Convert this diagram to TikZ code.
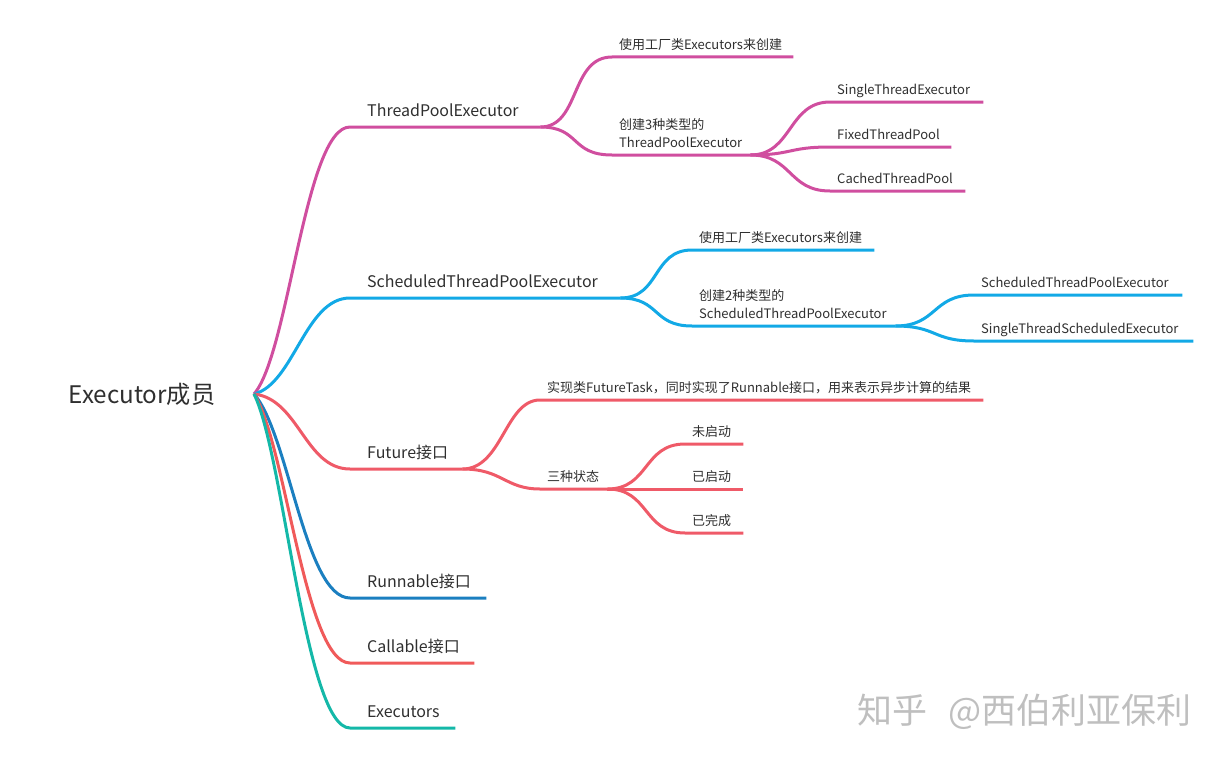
\documentclass[tikz,border=0pt]{standalone}
\usepackage{fontspec}
\setmainfont{Noto Sans CJK SC}
\definecolor{inktext}{HTML}{2F2F2F}
\definecolor{pinkbranch}{HTML}{D04E9F}
\definecolor{bluebranch}{HTML}{12A9E6}
\definecolor{redbranch}{HTML}{EF5A68}
\definecolor{navybranch}{HTML}{1B7FC0}
\definecolor{coralbranch}{HTML}{F05A5A}
\definecolor{tealbranch}{HTML}{14B8A8}
\definecolor{markgray}{HTML}{BFBFBF}
\tikzset{
  rootlabel/.style={anchor=east, inner xsep=38.5pt, inner ysep=0pt, text=inktext, font=\fontsize{24.2}{28}\selectfont},
  topic/.style={anchor=south west, inner xsep=17pt, inner ysep=6pt, text depth=4pt, text=inktext, align=left,
    text width=#1-34pt, font=\fontsize{16}{20}\selectfont},
  leaf/.style={anchor=south west, inner xsep=7pt, inner ysep=4pt, text depth=3pt, text=inktext, align=left,
    text width=#1-14pt, font=\fontsize{13}{18}\selectfont},
  twolines/.style={text depth=21pt},
  branch/.style={line width=3pt},
}

\begin{document}
\begin{tikzpicture}[x=1pt,y=-1pt]
    \useasboundingbox (0,0) rectangle (1220,760);

    \node[rootlabel] (root) at (254,394) {Executor成员};

    \node[topic=190] (tpe) at (350,127) {ThreadPoolExecutor};
    \node[leaf=181] (tpeuse) at (612,57) {使用工厂类Executors来创建};
    \node[leaf=138, twolines] (tpekinds) at (612,155) {创建3种类型的\\ThreadPoolExecutor};
    \node[leaf=153] (tpesingle) at (830,102) {SingleThreadExecutor};
    \node[leaf=121] (tpefixed) at (830,147) {FixedThreadPool};
    \node[leaf=135] (tpecached) at (830,191) {CachedThreadPool};

    \node[topic=270] (spe) at (350,298) {ScheduledThreadPoolExecutor};
    \node[leaf=182] (speuse) at (692,250) {使用工厂类Executors来创建};
    \node[leaf=203, twolines] (spekinds) at (692,326) {创建2种类型的\\ScheduledThreadPoolExecutor};
    \node[leaf=208] (spemany) at (974,295) {ScheduledThreadPoolExecutor};
    \node[leaf=219] (speone) at (974,341) {SingleThreadScheduledExecutor};

    \node[topic=112] (fut) at (350,469) {Future接口};
    \node[leaf=443] (futtask) at (540,400) {实现类FutureTask，同时实现了Runnable接口，用来表示异步计算的结果};
    \node[leaf=67] (futstates) at (540,489) {三种状态};
    \node[leaf=58] (futnew) at (685,444) {未启动};
    \node[leaf=58] (futrun) at (685,489) {已启动};
    \node[leaf=58] (futdone) at (685,533) {已完成};

    \node[topic=136] (rnb) at (350,598) {Runnable接口};
    \node[topic=124] (cal) at (350,663) {Callable接口};
    \node[topic=105] (exs) at (350,728) {Executors};

    \draw[branch, pinkbranch] (root.east) .. controls +(35,-40) and +(-45,0) .. (tpe.south west) -- (tpe.south east);
    \draw[branch, pinkbranch] (tpe.south east) .. controls +(40,0) and +(-42,0) .. (tpeuse.south west) -- (tpeuse.south east);
    \draw[branch, pinkbranch] (tpe.south east) .. controls +(40,0) and +(-42,0) .. (tpekinds.south west) -- (tpekinds.south east);
    \draw[branch, pinkbranch] (tpekinds.south east) .. controls +(42,0) and +(-42,0) .. (tpesingle.south west) -- (tpesingle.south east);
    \draw[branch, pinkbranch] (tpekinds.south east) .. controls +(42,0) and +(-42,0) .. (tpefixed.south west) -- (tpefixed.south east);
    \draw[branch, pinkbranch] (tpekinds.south east) .. controls +(42,0) and +(-42,0) .. (tpecached.south west) -- (tpecached.south east);

    \draw[branch, bluebranch] (root.east) .. controls +(40,-10) and +(-45,0) .. (spe.south west) -- (spe.south east);
    \draw[branch, bluebranch] (spe.south east) .. controls +(40,0) and +(-40,0) .. (speuse.south west) -- (speuse.south east);
    \draw[branch, bluebranch] (spe.south east) .. controls +(40,0) and +(-40,0) .. (spekinds.south west) -- (spekinds.south east);
    \draw[branch, bluebranch] (spekinds.south east) .. controls +(42,0) and +(-42,0) .. (spemany.south west) -- (spemany.south east);
    \draw[branch, bluebranch] (spekinds.south east) .. controls +(42,0) and +(-42,0) .. (speone.south west) -- (speone.south east);

    \draw[branch, redbranch] (root.east) .. controls +(45,5) and +(-45,0) .. (fut.south west) -- (fut.south east);
    \draw[branch, redbranch] (fut.south east) .. controls +(40,0) and +(-35,0) .. (futtask.south west) -- (futtask.south east);
    \draw[branch, redbranch] (fut.south east) .. controls +(40,0) and +(-35,0) .. (futstates.south west) -- (futstates.south east);
    \draw[branch, redbranch] (futstates.south east) .. controls +(42,0) and +(-42,0) .. (futnew.south west) -- (futnew.south east);
    \draw[branch, redbranch] (futstates.south east) -- (futrun.south east);
    \draw[branch, redbranch] (futstates.south east) .. controls +(42,0) and +(-42,0) .. (futdone.south west) -- (futdone.south east);

    \draw[branch, navybranch] (root.east) .. controls +(35,40) and +(-45,0) .. (rnb.south west) -- (rnb.south east);
    \draw[branch, coralbranch] (root.east) .. controls +(32,50) and +(-45,0) .. (cal.south west) -- (cal.south east);
    \draw[branch, tealbranch] (root.east) .. controls +(30,60) and +(-45,0) .. (exs.south west) -- (exs.south east);

    \node[text=markgray, inner sep=0pt, anchor=west, font=\fontsize{35}{40}\selectfont] (mark) at (857,712) {知乎\hspace{13pt} @西伯利亚保利};
\end{tikzpicture}
\end{document}
